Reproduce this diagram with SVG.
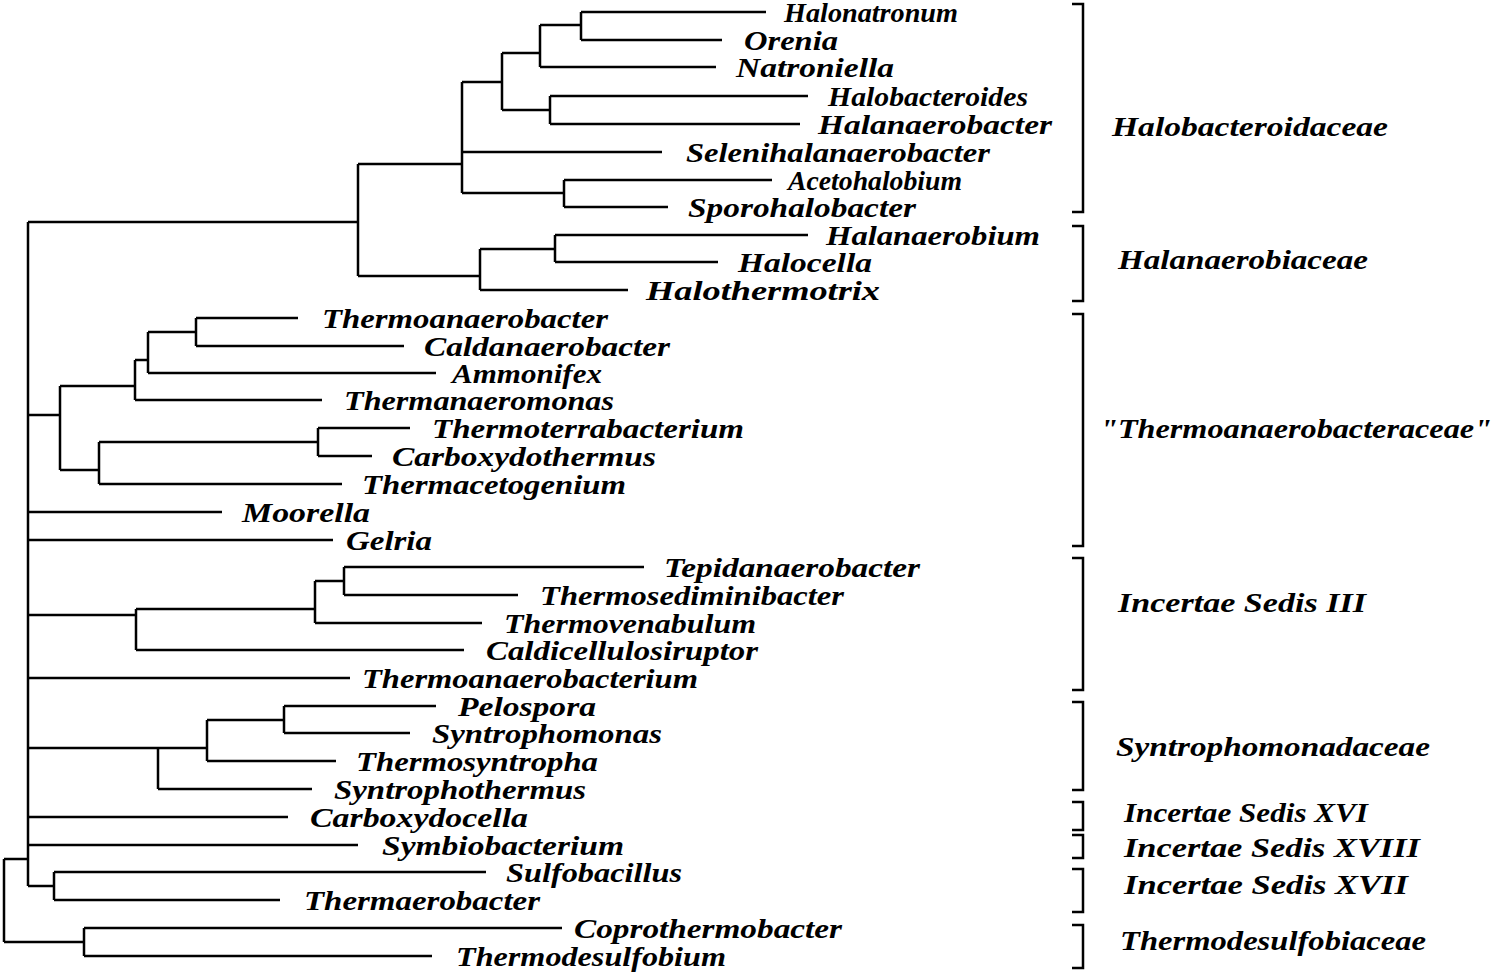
<svg xmlns="http://www.w3.org/2000/svg" width="1504" height="974" viewBox="0 0 1504 974">
<style>
path{fill:none;stroke:#000;stroke-width:2.5}
text{font-family:"Liberation Serif",serif;font-weight:bold;font-style:italic;font-size:28px;fill:#000}
</style>
<rect width="1504" height="974" fill="#fff"/>
<g id="connectors">
<path d="M4,859V942M4,859H28M4,942H84"/>
<path d="M84,928V956M84,928H562M84,956H432"/>
<path d="M28,222V886M28,222H358M28,415H60M28,512H222M28,540H333M28,615H136M28,678H350M28,748H158M28,817H288M28,845H358M28,886H54"/>
<path d="M358,164V276M358,164H462M358,276H480"/>
<path d="M462,82V193M462,82H502M462,152H662M462,193H564"/>
<path d="M502,53V110M502,53H540M502,110H550"/>
<path d="M540,25V67M540,25H581M540,67H716"/>
<path d="M581,12V40M581,12H766M581,40H722"/>
<path d="M550,96V124M550,96H808M550,124H800"/>
<path d="M564,180V207M564,180H772M564,207H668"/>
<path d="M480,249V290M480,249H555M480,290H628"/>
<path d="M555,235V262M555,235H808M555,262H718"/>
<path d="M60,386V470M60,386H135M60,470H99"/>
<path d="M135,360V400M135,360H148M135,400H322"/>
<path d="M148,332V373M148,332H196M148,373H436"/>
<path d="M196,318V346M196,318H298M196,346H404"/>
<path d="M99,442V484M99,442H318M99,484H342"/>
<path d="M318,428V456M318,428H410M318,456H372"/>
<path d="M136,609V650M136,609H315M136,650H464"/>
<path d="M315,581V623M315,581H344M315,623H482"/>
<path d="M344,567V595M344,567H644M344,595H518"/>
<path d="M158,748V789M158,748H207M158,789H312"/>
<path d="M207,720V761M207,720H284M207,761H336"/>
<path d="M284,706V733M284,706H436M284,733H410"/>
<path d="M54,872V900M54,872H486M54,900H280"/>
</g>
<g id="brackets">
<path d="M1072,4H1083V212H1072"/>
<path d="M1072,226H1083V301H1072"/>
<path d="M1072,314H1083V546H1072"/>
<path d="M1072,558H1083V690H1072"/>
<path d="M1072,702H1083V790H1072"/>
<path d="M1072,802H1083V830H1072"/>
<path d="M1072,835H1083V858H1072"/>
<path d="M1072,869H1083V912H1072"/>
<path d="M1072,925H1083V968H1072"/>
</g>
<g id="leaves">
<text x="784" y="22" textLength="174" lengthAdjust="spacingAndGlyphs">Halonatronum</text>
<text x="744" y="50" textLength="94" lengthAdjust="spacingAndGlyphs">Orenia</text>
<text x="736" y="77" textLength="158" lengthAdjust="spacingAndGlyphs">Natroniella</text>
<text x="828" y="106" textLength="200" lengthAdjust="spacingAndGlyphs">Halobacteroides</text>
<text x="818" y="134" textLength="234" lengthAdjust="spacingAndGlyphs">Halanaerobacter</text>
<text x="686" y="162" textLength="304" lengthAdjust="spacingAndGlyphs">Selenihalanaerobacter</text>
<text x="788" y="190" textLength="174" lengthAdjust="spacingAndGlyphs">Acetohalobium</text>
<text x="688" y="217" textLength="228" lengthAdjust="spacingAndGlyphs">Sporohalobacter</text>
<text x="826" y="245" textLength="214" lengthAdjust="spacingAndGlyphs">Halanaerobium</text>
<text x="738" y="272" textLength="134" lengthAdjust="spacingAndGlyphs">Halocella</text>
<text x="646" y="300" textLength="234" lengthAdjust="spacingAndGlyphs">Halothermotrix</text>
<text x="322" y="328" textLength="286" lengthAdjust="spacingAndGlyphs">Thermoanaerobacter</text>
<text x="424" y="356" textLength="246" lengthAdjust="spacingAndGlyphs">Caldanaerobacter</text>
<text x="452" y="383" textLength="150" lengthAdjust="spacingAndGlyphs">Ammonifex</text>
<text x="344" y="410" textLength="270" lengthAdjust="spacingAndGlyphs">Thermanaeromonas</text>
<text x="432" y="438" textLength="312" lengthAdjust="spacingAndGlyphs">Thermoterrabacterium</text>
<text x="392" y="466" textLength="264" lengthAdjust="spacingAndGlyphs">Carboxydothermus</text>
<text x="362" y="494" textLength="264" lengthAdjust="spacingAndGlyphs">Thermacetogenium</text>
<text x="242" y="522" textLength="128" lengthAdjust="spacingAndGlyphs">Moorella</text>
<text x="346" y="550" textLength="86" lengthAdjust="spacingAndGlyphs">Gelria</text>
<text x="664" y="577" textLength="256" lengthAdjust="spacingAndGlyphs">Tepidanaerobacter</text>
<text x="540" y="605" textLength="304" lengthAdjust="spacingAndGlyphs">Thermosediminibacter</text>
<text x="504" y="633" textLength="252" lengthAdjust="spacingAndGlyphs">Thermovenabulum</text>
<text x="486" y="660" textLength="272" lengthAdjust="spacingAndGlyphs">Caldicellulosiruptor</text>
<text x="362" y="688" textLength="336" lengthAdjust="spacingAndGlyphs">Thermoanaerobacterium</text>
<text x="458" y="716" textLength="138" lengthAdjust="spacingAndGlyphs">Pelospora</text>
<text x="432" y="743" textLength="230" lengthAdjust="spacingAndGlyphs">Syntrophomonas</text>
<text x="356" y="771" textLength="242" lengthAdjust="spacingAndGlyphs">Thermosyntropha</text>
<text x="334" y="799" textLength="252" lengthAdjust="spacingAndGlyphs">Syntrophothermus</text>
<text x="310" y="827" textLength="218" lengthAdjust="spacingAndGlyphs">Carboxydocella</text>
<text x="382" y="855" textLength="242" lengthAdjust="spacingAndGlyphs">Symbiobacterium</text>
<text x="506" y="882" textLength="176" lengthAdjust="spacingAndGlyphs">Sulfobacillus</text>
<text x="304" y="910" textLength="236" lengthAdjust="spacingAndGlyphs">Thermaerobacter</text>
<text x="574" y="938" textLength="268" lengthAdjust="spacingAndGlyphs">Coprothermobacter</text>
<text x="456" y="966" textLength="270" lengthAdjust="spacingAndGlyphs">Thermodesulfobium</text>
</g>
<g id="families">
<text x="1112" y="136" textLength="276" lengthAdjust="spacingAndGlyphs">Halobacteroidaceae</text>
<text x="1118" y="269" textLength="250" lengthAdjust="spacingAndGlyphs">Halanaerobiaceae</text>
<text x="1100" y="438" textLength="392" lengthAdjust="spacingAndGlyphs">"Thermoanaerobacteraceae"</text>
<text x="1118" y="612" textLength="248" lengthAdjust="spacingAndGlyphs">Incertae Sedis III</text>
<text x="1116" y="756" textLength="314" lengthAdjust="spacingAndGlyphs">Syntrophomonadaceae</text>
<text x="1124" y="822" textLength="244" lengthAdjust="spacingAndGlyphs">Incertae Sedis XVI</text>
<text x="1124" y="857" textLength="296" lengthAdjust="spacingAndGlyphs">Incertae Sedis XVIII</text>
<text x="1124" y="894" textLength="284" lengthAdjust="spacingAndGlyphs">Incertae Sedis XVII</text>
<text x="1120" y="950" textLength="306" lengthAdjust="spacingAndGlyphs">Thermodesulfobiaceae</text>
</g>
</svg>
